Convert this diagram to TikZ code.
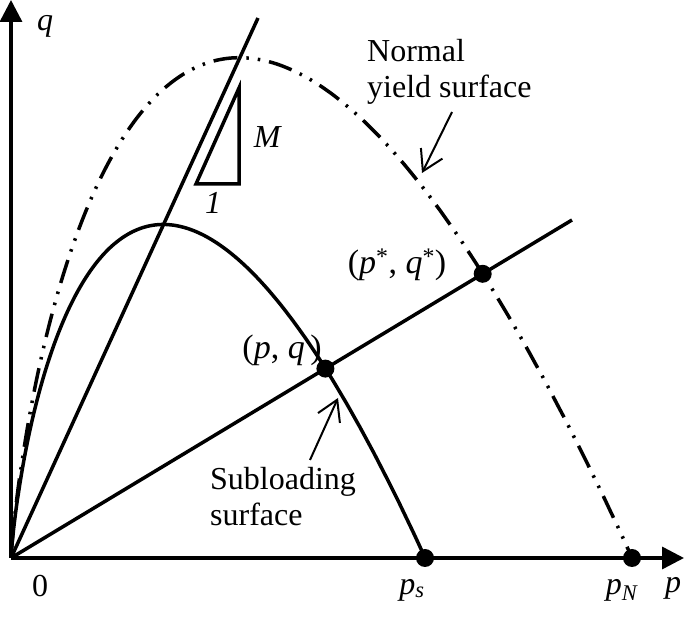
\documentclass[tikz,border=0pt]{standalone}
\usepackage{fontspec}
\setmainfont{Liberation Serif}
\usetikzlibrary{arrows.meta}
\begin{document}
\begin{tikzpicture}[x=1pt,y=1pt,
  axis/.style={line width=3.5pt,-{Triangle[length=22pt,width=22pt]}},
  curve/.style={line width=3.5pt},
  yieldline/.style={line width=3.5pt, dash pattern=on 24pt off 9pt on 2.5pt off 9pt on 2.5pt off 9pt},
  dot/.style={circle,fill=black,inner sep=0pt,minimum size=18pt},
  lbl/.style={font=\fontsize{32}{36}\selectfont, inner sep=0pt},
  pointer/.style={line width=2pt,-{Straight Barb[length=20pt,width=24pt,line width=2pt]}}
]
\useasboundingbox (0,0) rectangle (685,618);
% axes
\coordinate (O) at (11,60);
\coordinate (qtip) at (11,618);
\coordinate (ptip) at (684,60);
\draw[axis] (O) -- (ptip);
\draw[axis] (O) -- (qtip);
% lines
\coordinate (cslend) at (258,600);
\coordinate (etaend) at (572,398);
\draw[curve] (O) -- (cslend);
\draw[curve] (O) -- (etaend);
% subloading surface (Cam-clay shape)
\draw[curve] (O) -- plot[domain=0.02:1, samples=160, variable=\t]
  ({11+414*\t*\t}, {60 - 2*2.19*414*\t*\t*ln(\t)});
% normal yield surface
\draw[yieldline] (O) -- plot[domain=0.02:1, samples=200, variable=\t]
  ({11+621*\t*\t}, {60 - 2*2.19*621*\t*\t*ln(\t)});
% slope triangle
\coordinate (tA) at (239,530);
\coordinate (tB) at (239,434);
\coordinate (tC) at (196,434);
\draw[line width=3.5pt, line join=miter] (tA) -- (tB) -- (tC) -- cycle;
% dots
\node[dot] (pq) at (325.4,249.4) {};
\node[dot] (pqs) at (482.7,344.2) {};
\node[dot] (ps) at (425,60) {};
\node[dot] (pN) at (632,60) {};
% labels
\node[lbl] (qlab) at (45,592) {\textit{q}};
\node[lbl] (plab) at (673,30) {\textit{p}};
\node[lbl] (zero) at (40,32) {0};
\node[lbl] (pslab) at (412,28) {\textit{p}\textsubscript{\textit{s}}};
\node[lbl] (pNlab) at (622,28) {\textit{p}\textsubscript{\textit{N}}};
\node[lbl] (Mlab) at (268,481) {\textit{M}};
\node[lbl] (onelab) at (213,415) {\textit{1}};
\node[lbl, font=\fontsize{34}{36}\selectfont, anchor=east] (pqlab) at (322,268) {(\textit{p}, \textit{q}\,)};
\node[lbl, font=\fontsize{34}{36}\selectfont] (pqslab) at (397,353) {(\textit{p}\textsuperscript{*}, \textit{q}\textsuperscript{*})};
\node[lbl, align=left, anchor=north west] (nys) at (367,579) {Normal\\yield surface};
\node[lbl, align=left, anchor=north west] (subl) at (210,151) {Subloading\\surface};
% pointers
\coordinate (nysfrom) at (452,506);
\coordinate (nysto) at (422,445);
\coordinate (subfrom) at (310,158);
\coordinate (subto) at (338,220);
\draw[pointer] (nysfrom) -- (nysto);
\draw[pointer] (subfrom) -- (subto);
\end{tikzpicture}
\end{document}
